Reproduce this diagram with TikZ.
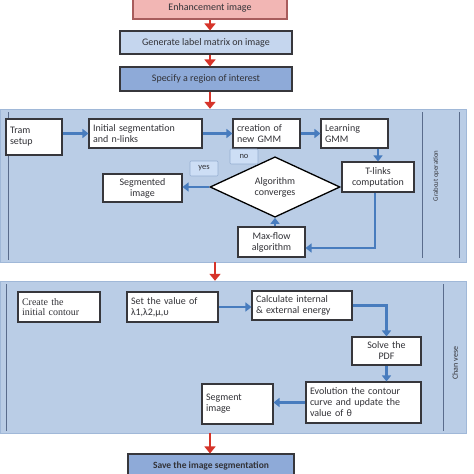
\documentclass[tikz,border=0pt]{standalone}
\usepackage{fontspec}
\setmainfont{Carlito}
\newfontfamily\serifA{Liberation Serif}
\usetikzlibrary{arrows.meta,shapes.geometric}
\definecolor{panelfill}{RGB}{186,205,230}
\definecolor{paneledge}{RGB}{160,184,216}
\definecolor{innerline}{RGB}{90,108,140}
\definecolor{lightfill}{RGB}{197,214,238}
\definecolor{midfill}{RGB}{142,170,216}
\definecolor{pinkfill}{RGB}{242,182,180}
\definecolor{pinkedge}{RGB}{168,92,92}
\definecolor{boxline}{RGB}{55,55,60}
\definecolor{txt}{RGB}{50,50,55}
\definecolor{bluearrow}{RGB}{72,124,190}
\definecolor{redarrow}{RGB}{214,52,42}
\definecolor{tagfill}{RGB}{205,222,245}
\definecolor{tagedge}{RGB}{150,175,210}
\begin{document}
\begin{tikzpicture}[x=1pt,y=-1pt,
  font=\fontsize{10}{11}\selectfont,
  box/.style={draw=boxline, fill=white, line width=1.1pt, inner xsep=4pt, inner ysep=0pt, text=txt, align=left},
  cbox/.style={box, align=center},
  topbox/.style={draw=boxline, line width=1.1pt, inner sep=0pt, text=txt, align=center},
  tag/.style={draw=tagedge, fill=tagfill, line width=0.6pt, inner sep=0pt, rounded corners=1pt, text=txt, font=\fontsize{8.5}{9}\selectfont},
  panel/.style={draw=paneledge, fill=panelfill, line width=1pt},
  inner/.style={draw=innerline, line width=0.8pt},
  barr/.style={draw=bluearrow, line width=2.8pt, -{Triangle[width=9pt,length=6pt]}},
  rarr/.style={draw=redarrow, line width=2.6pt, -{Triangle[width=11pt,length=7pt]}},
  plabel/.style={rotate=90, text=txt, font=\fontsize{6.8}{7}\selectfont}
]
\useasboundingbox (0,0) rectangle (474,474);

% top boxes
\node[topbox, fill=pinkfill, draw=pinkedge, minimum width=154pt, minimum height=22pt] (enh) at (210,8) {Enhancement image};
\node[topbox, fill=lightfill, minimum width=172pt, minimum height=23pt] (gen) at (206,42.5) {Generate label matrix on image};
\node[topbox, fill=midfill, minimum width=172pt, minimum height=24pt] (spec) at (206,79) {Specify a region of interest};

% grabcut panel
\path[panel] (0,109) rectangle (466,262);
\node[inner sep=0pt, minimum size=0pt] (gpan) at (233.5,109) {};
\node[inner sep=0pt, minimum size=0pt] (gpanb) at (215,262) {};
\draw[inner] (8,112) -- (8,260);
\draw[inner] (422,112) -- (422,258);
\draw[inner] (459,112) -- (459,258);
\node[plabel] (glab) at (436,176) {Grabcut operation};

\node[box, minimum width=56pt, minimum height=36pt, text width=48pt] (tram) at (34,137) {Tram\\setup};
\node[box, minimum width=113pt, minimum height=29pt, text width=105pt] (init) at (145.5,133.5) {Initial segmentation\\and n-links};
\node[box, minimum width=67pt, minimum height=29pt, text width=59pt] (gmm) at (266.5,133.5) {creation of\\new GMM};
\node[box, minimum width=67pt, minimum height=29pt, text width=59pt] (learn) at (354.5,133.5) {Learning\\GMM};
\node[cbox, minimum width=72pt, minimum height=30pt, text width=64pt] (tlinks) at (378,177) {T-links\\computation};
\node[cbox, minimum width=79pt, minimum height=28pt, text width=71pt] (seg) at (142.5,188) {Segmented\\image};
\node[diamond, draw=black, fill=white, line width=1.3pt, minimum width=130pt, minimum height=58pt, inner sep=0pt, text=txt, align=center] (dia) at (275,187) {Algorithm\\converges};
\node[cbox, minimum width=67pt, minimum height=30pt, text width=59pt] (maxf) at (271.5,242) {Max-flow\\algorithm};
\node[tag, minimum width=28pt, minimum height=15pt] (no) at (244,156.5) {no};
\node[tag, minimum width=28pt, minimum height=15pt] (yes) at (204,168.5) {yes};

\draw[barr] (tram.east |- init.west) -- (init.west);
\draw[barr] (init.east) -- (gmm.west);
\draw[barr] (gmm.east) -- (learn.west);
\draw[barr] (learn.south -| tlinks.north) -- (tlinks.north);
\draw[barr] (dia.west) -- (dia.west -| seg.east);
\draw[barr] ([xshift=-3pt]tlinks.south) |- ([yshift=-6pt]maxf.east);
\draw[barr] (maxf.north -| dia.south) -- (dia.south);

% chan vese panel
\path[panel] (0,281) rectangle (466,433);
\node[inner sep=0pt, minimum size=0pt] (cpan) at (215,281) {};
\node[inner sep=0pt, minimum size=0pt] (cpanb) at (210,433) {};
\draw[inner] (6,284) -- (6,431);
\draw[inner] (443,284) -- (443,431);
\node[plabel, font=\fontsize{8}{8}\selectfont] (clab) at (455,363) {Chan vese};

\node[box, minimum width=82pt, minimum height=30pt, text width=74pt, font=\serifA\fontsize{10}{10.5}\selectfont] (create) at (59,307) {Create the\\initial contour};
\node[box, minimum width=91pt, minimum height=30pt, text width=83pt] (setv) at (172.5,307) {Set the value of\\λ1,λ2,μ,υ};
\node[box, minimum width=100pt, minimum height=29pt, text width=92pt] (calc) at (302,305.5) {Calculate internal\\\& external energy};
\node[cbox, minimum width=69pt, minimum height=28pt, text width=61pt] (solve) at (386.5,351) {Solve the\\PDF};
\node[box, minimum width=115pt, minimum height=41pt, text width=107pt] (evol) at (363.5,402.5) {Evolution the contour\\curve and update the\\value of θ};
\node[box, minimum width=71pt, minimum height=40pt, text width=63pt] (segm) at (237.5,404) {Segment\\image};

\draw[barr] (setv.east) -- (setv.east -| calc.west);
\draw[barr] (calc.east) -| (solve.north);
\draw[barr] (solve.south) -- (solve.south |- evol.north);
\draw[barr] (evol.west) -- (evol.west -| segm.east);

% bottom
\node[topbox, fill=midfill, minimum width=166pt, minimum height=24pt, font=\bfseries\fontsize{9.5}{10}\selectfont] (save) at (211,466) {Save the image segmentation};

% red arrows
\draw[rarr] (enh.south -| 210,0) -- (gen.north -| 210,0);
\draw[rarr] (gen.south -| 210,0) -- (spec.north -| 210,0);
\draw[rarr] (spec.south -| 210,0) -- (gpan.north -| 210,0);
\draw[rarr] (gpanb) -- (cpan);
\draw[rarr] (cpanb) -- (save.north -| cpanb);
\end{tikzpicture}
\end{document}
